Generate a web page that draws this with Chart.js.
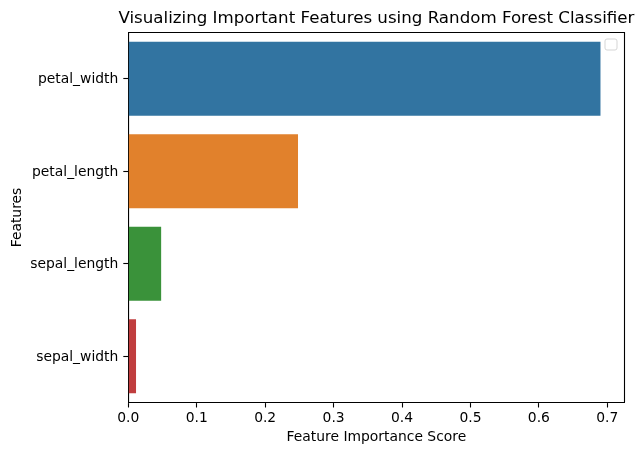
<!DOCTYPE html>
<html>
<head>
<meta charset="utf-8">
<style>
html, body { margin: 0; padding: 0; background: #fff; }
#wrap { width: 642px; height: 455px; }
</style>
<script src="https://cdn.jsdelivr.net/npm/chart.js@4"></script>
</head>
<body>
<div id="wrap"><canvas id="grafico" width="642" height="455"></canvas></div>
<script>
const categorias = ['petal_width', 'petal_length', 'sepal_length', 'sepal_width'];
const valores = [0.69, 0.248, 0.048, 0.0113];
const colores = ['#3274a1', '#e1812c', '#3a923a', '#c03d3e'];
const marcasX = [0, 0.1, 0.2, 0.3, 0.4, 0.5, 0.6, 0.7];

const fuente = '"DejaVu Sans"';

// Marco superior y derecho, y el recuadro vacio de la leyenda
const marcoYLeyenda = {
    id: 'marcoYLeyenda',
    afterLayout(chart) {
        // El titulo es mas ancho que el area del grafico: le damos margen para que no se comprima
        chart.titleBlock.left = chart.chartArea.left - 40;
        chart.titleBlock.right = chart.chartArea.right + 40;
    },
    afterDraw(chart) {
        const a = chart.chartArea;
        const c = chart.ctx;
        c.save();
        c.strokeStyle = '#000';
        c.lineWidth = 1.1;
        c.beginPath();
        c.moveTo(a.left, a.top);
        c.lineTo(a.right, a.top);
        c.lineTo(a.right, a.bottom);
        c.stroke();
        c.strokeStyle = '#d5d5d5';
        c.lineWidth = 1;
        c.beginPath();
        c.roundRect(a.right - 19.5, a.top + 6.5, 12, 11, 2);
        c.stroke();
        c.restore();
    }
};

new Chart(document.getElementById('grafico'), {
    type: 'bar',
    data: {
        labels: categorias,
        datasets: [{
            data: valores,
            backgroundColor: colores,
            categoryPercentage: 1,
            barPercentage: 0.8
        }]
    },
    options: {
        indexAxis: 'y',
        responsive: false,
        animation: false,
        layout: { padding: { top: 0, right: 17.5, bottom: 0, left: 0 } },
        plugins: {
            legend: { display: false },
            tooltip: { enabled: false },
            title: {
                display: true,
                fullSize: false,
                text: 'Visualizing Important Features using Random Forest Classifier',
                color: '#000',
                font: { family: fuente, size: 16.67, weight: 'normal', lineHeight: 1.2 },
                padding: { top: 9, bottom: 3.5 }
            }
        },
        scales: {
            x: {
                min: 0,
                max: 0.7251,
                afterBuildTicks(eje) { eje.ticks = marcasX.map(v => ({ value: v })); },
                afterFit(eje) { eje.height = 52.5; },
                grid: { drawOnChartArea: false, drawTicks: true, tickLength: 5, tickColor: '#000', tickWidth: 1.1 },
                border: { color: '#000', width: 1.1 },
                ticks: {
                    color: '#000',
                    font: { family: fuente, size: 13.89 },
                    padding: 3,
                    maxRotation: 0,
                    autoSkip: false,
                    callback: v => (v === 0 ? '0.0' : String(v))
                },
                title: {
                    display: true,
                    text: 'Feature Importance Score',
                    color: '#000',
                    font: { family: fuente, size: 13.89 },
                    padding: { top: 2, bottom: 9.6 }
                }
            },
            y: {
                afterFit(eje) { eje.width = 128.3; },
                grid: { offset: false, drawOnChartArea: false, drawTicks: true, tickLength: 5, tickColor: '#000', tickWidth: 1.1 },
                border: { color: '#000', width: 1.1 },
                ticks: {
                    color: '#000',
                    font: { family: fuente, size: 13.89 },
                    padding: 5,
                    labelOffset: 1
                },
                title: {
                    display: true,
                    text: 'Features',
                    color: '#000',
                    font: { family: fuente, size: 13.89 },
                    padding: { top: 8.6, bottom: 4 }
                }
            }
        }
    },
    plugins: [marcoYLeyenda]
});
</script>
</body>
</html>
